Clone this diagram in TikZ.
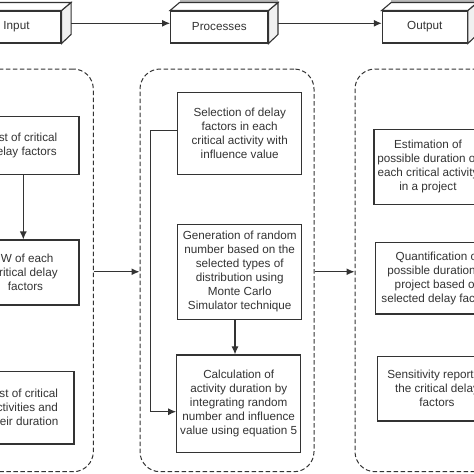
\documentclass[tikz,border=0pt]{standalone}
\usepackage{fontspec}
\setmainfont{Liberation Sans}
\usetikzlibrary{arrows.meta,calc}
\definecolor{ink}{HTML}{333333}
\tikzset{
    stepbox/.style={draw=ink, line width=1.1pt, rectangle, align=center, inner sep=0pt,
        text=ink, font=\fontsize{11.7}{14}\selectfont},
    headbox/.style={stepbox, fill=white, minimum height=32pt},
    grp/.style={draw=ink, line width=1pt, dash pattern=on 4.5pt off 2.5pt,
        rounded corners=20pt, minimum height=402.7pt},
    link/.style={draw=ink, line width=1.1pt, -{Latex[length=8pt,width=7pt]}},
}
\begin{document}
\begin{tikzpicture}[x=1pt,y=-1pt]
    \clip (0,0) rectangle (474,474);

    % headers
    \node[headbox, minimum width=89pt] (in) at (16.5,27) {Input};
    \node[headbox, minimum width=97.3pt] (proc) at (219.3,27) {Processes};
    \node[headbox, minimum width=85pt] (out) at (424.8,27) {Output};

    \foreach \b in {proc,out}
        \fill[gray!55] ($(\b.north west)+(9.5,-8)$) rectangle ($(\b.north east)+(9.5,-12)$);
    \foreach \b in {in,proc,out} {
        \draw[ink, line width=1.1pt, fill=gray!12] (\b.north east) -- ++(9.5,-8) -- ++(0,32) -- (\b.south east) -- cycle;
        \draw[ink, line width=1.1pt, fill=white] (\b.north west) -- ++(9.5,-8) -- ($(\b.north east)+(9.5,-8)$) -- (\b.north east) -- cycle;
    }

    \draw[link] ([xshift=9.5pt,yshift=3.7pt]in.east) -- ([yshift=3.7pt]proc.west);
    \draw[link] ([xshift=9.5pt,yshift=3.7pt]proc.east) -- ([yshift=3.7pt]out.west);

    % dashed groups
    \node[grp, minimum width=193.3pt] (gl) at (-3.35,270.35) {};
    \node[grp, minimum width=174pt] (gm) at (227,270.35) {};
    \node[grp, minimum width=205pt] (gr) at (457.5,270.35) {};

    % input column
    \node[stepbox, minimum width=111pt, minimum height=57.6pt] (l1) at (23.5,145.5)
        {List of critical\\delay factors};
    \node[stepbox, minimum width=107pt, minimum height=65pt] (l2) at (25.5,272.5)
        {IW of each\\critical delay\\factors};
    \node[stepbox, minimum width=99.6pt, minimum height=72.3pt] (l3) at (24.2,407.8)
        {List of critical\\activities and\\their duration};

    % process column
    \node[stepbox, minimum width=124pt, minimum height=82pt] (m1) at (239.7,133.3)
        {Selection of delay\\factors in each\\critical activity with\\influence value};
    \node[stepbox, minimum width=124pt, minimum height=95.3pt] (m2) at (239.7,271.7)
        {Generation of random\\number based on the\\selected types of\\distribution using\\Monte Carlo\\Simulator technique};
    \node[stepbox, minimum width=124pt, minimum height=97.7pt] (m3) at (238.7,403.8)
        {Calculation of\\activity duration by\\integrating random\\number and influence\\value using equation 5};

    % output column
    \node[stepbox, minimum width=108pt, minimum height=74.7pt] (r1) at (428,166.7)
        {Estimation of\\possible duration of\\each critical activity\\in a project};
    \node[stepbox, minimum width=124.6pt, minimum height=71.3pt] (r2) at (438,278.3)
        {Quantification of\\possible duration of\\project based on\\selected delay factors};
    \node[stepbox, minimum width=119.4pt, minimum height=64.3pt] (r3) at (437,388.8)
        {Sensitivity report of\\the critical delay\\factors};

    % connectors
    \draw[link] ([xshift=-0.2pt]l1.south) -- ([xshift=-0.2pt]l1.south |- l2.north);
    \draw[link] ([xshift=-4.7pt]m2.south) -- ([xshift=-4.7pt]m2.south |- m3.north);
    \draw[link] ([yshift=2.6pt]m1.west) -- ++(-26.7,0) |- ([yshift=-7.9pt]m3.west);
    \draw[link] ([yshift=-1.4pt]gl.east) -- ([yshift=-1.4pt]gm.west);
    \draw[link] ([yshift=-1.4pt]gm.east) -- ([yshift=-1.4pt]gr.west);

\end{tikzpicture}
\end{document}
